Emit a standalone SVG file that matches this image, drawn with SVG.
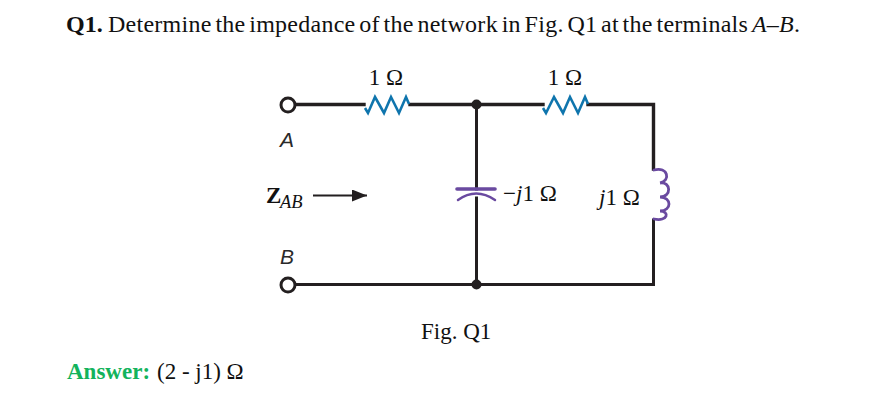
<svg xmlns="http://www.w3.org/2000/svg" width="876" height="411" viewBox="0 0 876 411">
<style>
.s{font-family:"Liberation Serif",serif;fill:#111}
.h{font-family:"Liberation Sans",sans-serif;fill:#2a2a2a}
.w{fill:none;stroke:#231f20;stroke-linecap:square;stroke-linejoin:miter}
.r{fill:none;stroke:#0f75ad;stroke-width:2.600;stroke-linejoin:miter}
.p{fill:none;stroke:#6a4aa0;stroke-linecap:round}
</style>
<defs><marker id="ah" markerUnits="userSpaceOnUse" markerWidth="16" markerHeight="12" refX="15" refY="6" orient="auto"><path d="M0 0L15 6L0 12Z" fill="#231f20"/></marker></defs>
<rect width="876" height="411" fill="#fff"/>
<g id="title"><text class="s" x="66" y="32" font-size="24" font-weight="bold">Q1.</text><text class="s" x="108" y="32" font-size="24" word-spacing="-2.500" textLength="692" lengthAdjust="spacing">Determine the impedance of the network in Fig. Q1 at the terminals <tspan font-style="italic">A–B</tspan>.</text></g>
<g id="connectors">
<path class="w" stroke-width="3.400" d="M297 104.500H364M410 104.500H453M453 104.500H477M477 104.500H543M588 104.500H653.500V169"/>
<path class="w" stroke-width="3" d="M653.500 220V284.500H297M476.500 105V189M476.500 198V284"/>
<path d="M313 195.500H367" stroke="#231f20" stroke-width="1.800" fill="none" marker-end="url(#ah)"/>
</g>
<g id="terminal-a"><circle cx="288" cy="105" r="7" fill="#fff" stroke="#231f20" stroke-width="3"/><text class="h" x="287" y="147" text-anchor="middle" font-size="21" font-style="italic">A</text></g>
<g id="terminal-b"><circle cx="288" cy="285" r="7" fill="#fff" stroke="#231f20" stroke-width="3"/><text class="h" x="287" y="264" text-anchor="middle" font-size="21" font-style="italic">B</text></g>
<g id="zab"><text class="s" x="266" y="203" font-size="23" font-weight="bold">Z</text><text class="s" x="280" y="208" font-size="18.500" font-style="italic">AB</text></g>
<g id="r1"><path class="r" d="M365 108L368 113L375 97L384 113L391 97L399 113L406 97L409 104"/><text class="s" x="386" y="85" text-anchor="middle" font-size="23">1 Ω</text></g>
<g id="r2"><path class="r" d="M543 108L546 113L554 97L563 113L570 97L578 113L585 97L588 104"/><text class="s" x="565" y="85" text-anchor="middle" font-size="23">1 Ω</text></g>
<g id="node-top"><circle cx="476.500" cy="104.500" r="5" fill="#231f20"/></g>
<g id="node-bottom"><circle cx="476.500" cy="284.500" r="5" fill="#231f20"/></g>
<g id="capacitor"><path class="p" stroke-width="3.600" d="M457 189H495"/><path class="p" stroke-width="2.500" d="M458 200Q476 187 495 200"/><text class="s" x="503" y="201" font-size="23"><tspan>−</tspan><tspan font-style="italic">j</tspan>1 Ω</text></g>
<g id="inductor"><path class="p" stroke-width="2.800" d="M654 170C668 166 671 181 660 183C671 181 672 197 660 197C672 197 672 211 660 211C670 211 668 222 654 219"/><text class="s" x="599" y="205" font-size="23"><tspan font-style="italic">j</tspan>1 Ω</text></g>
<g id="fig-label"><text class="s" x="421" y="339" font-size="23">Fig. Q1</text></g>
<g id="answer"><text class="s" x="67" y="379" font-size="23" font-weight="bold" style="fill:#12b35c">Answer:</text><text class="s" x="157" y="379" font-size="23">(2 - j1) Ω</text></g>
</svg>
